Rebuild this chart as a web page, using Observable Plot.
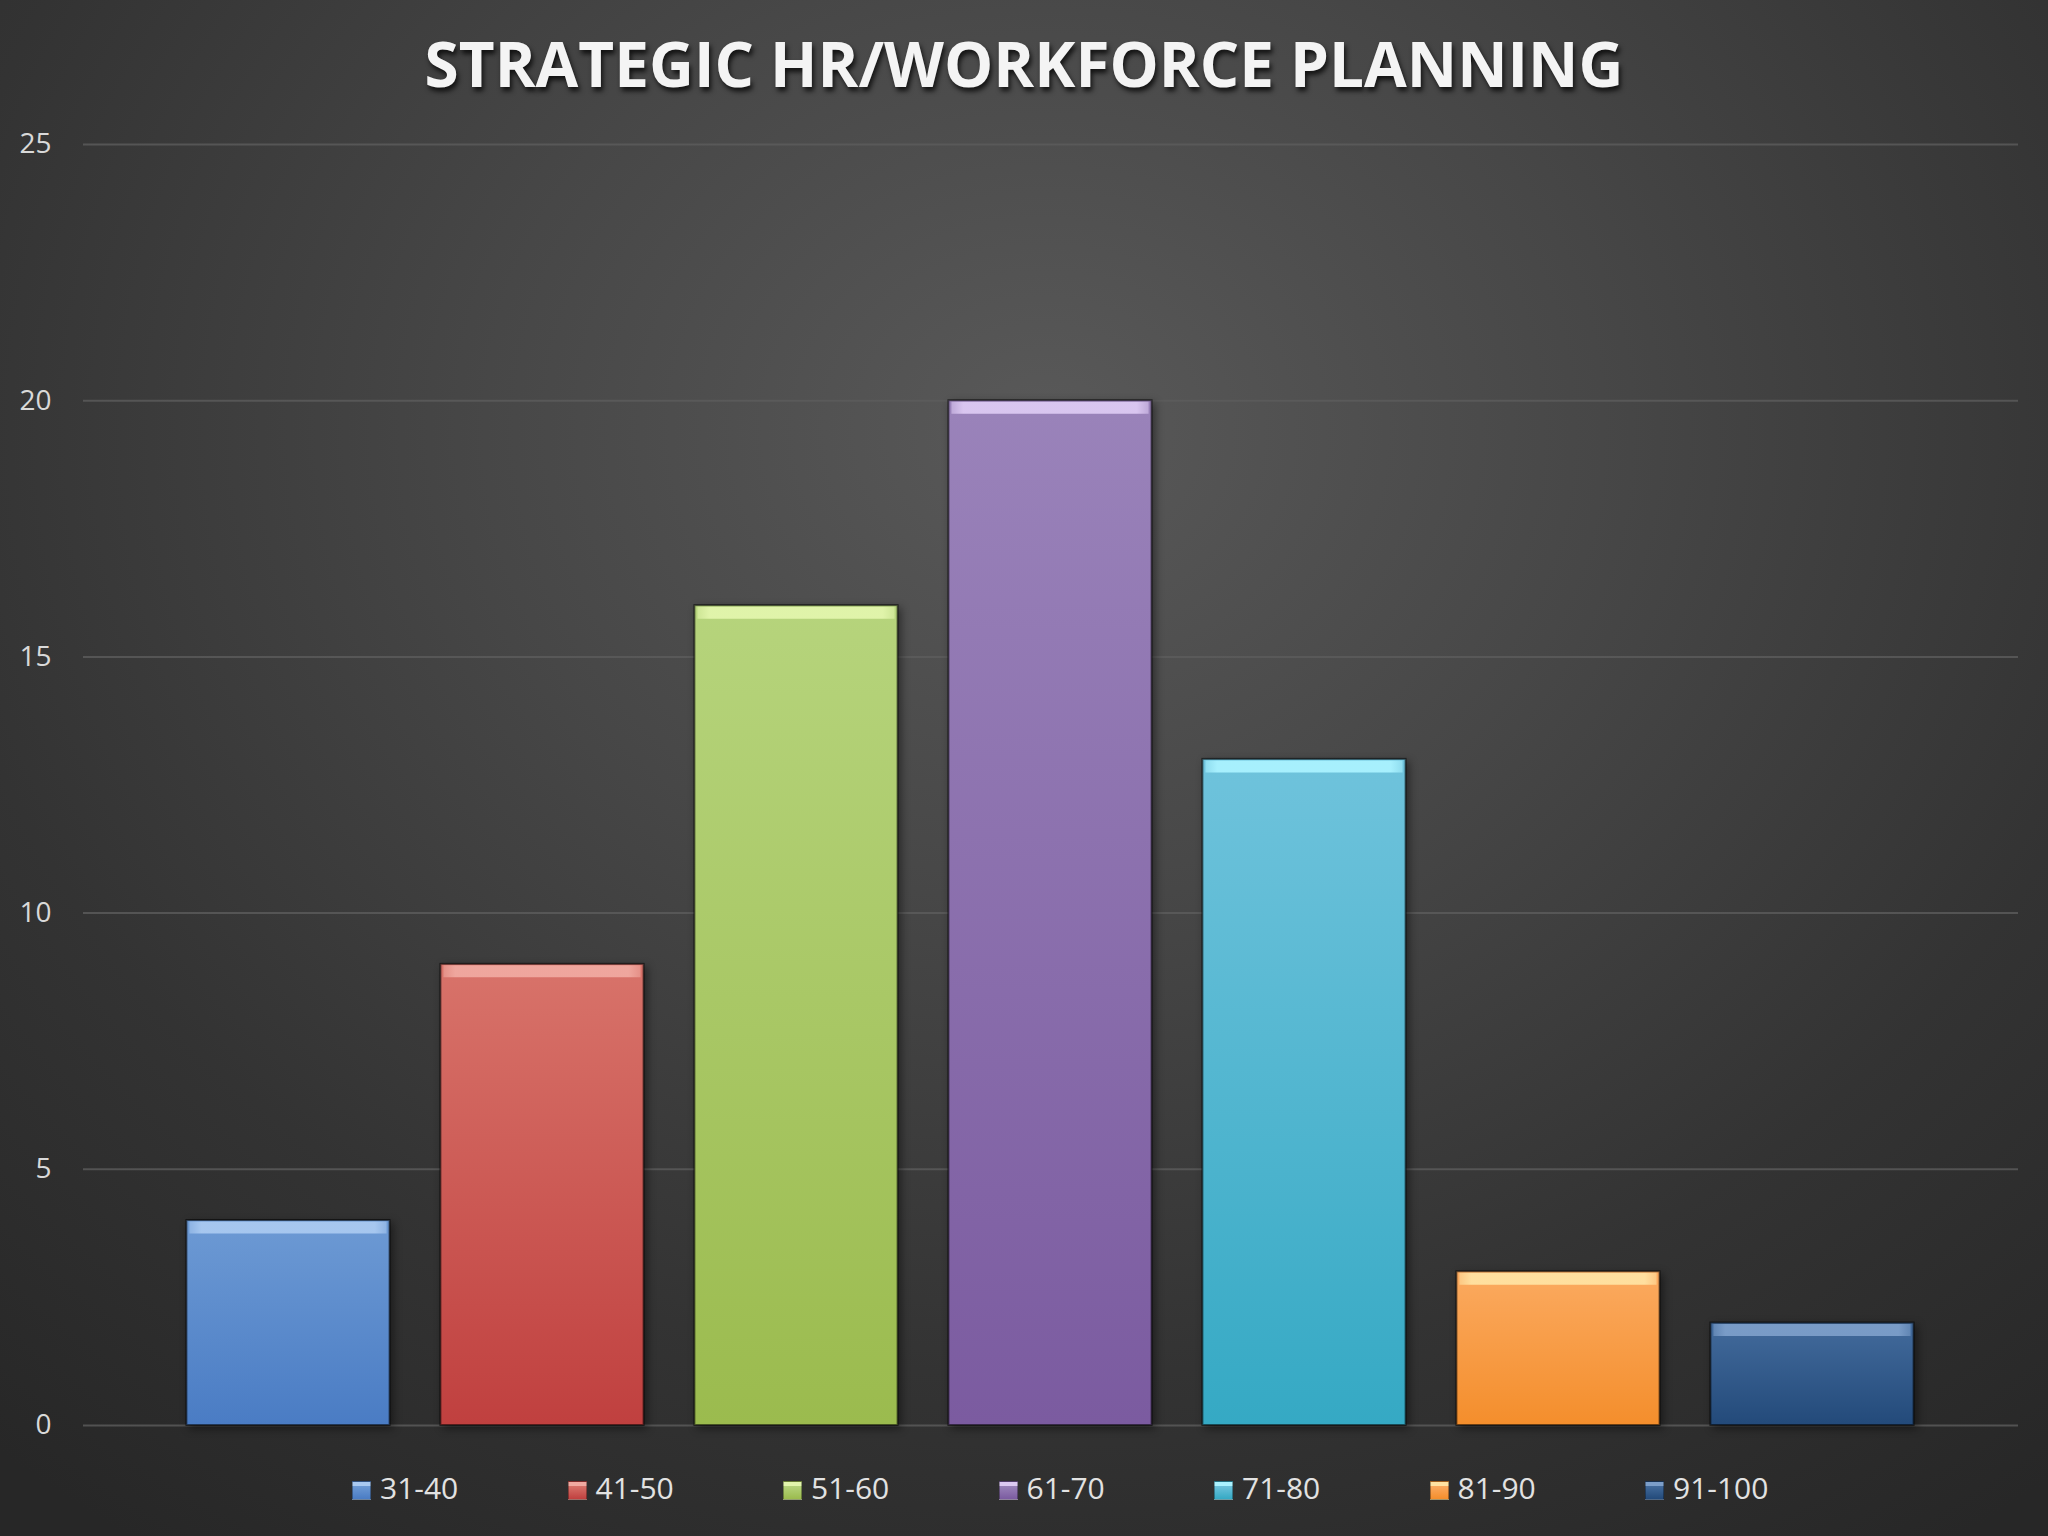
<!DOCTYPE html>
<html>
<head>
<meta charset="utf-8">
<script src="https://cdn.jsdelivr.net/npm/d3@7"></script>
<script src="https://cdn.jsdelivr.net/npm/@observablehq/plot@0.6"></script>
<style>
  html, body { margin: 0; padding: 0; }
  body {
    width: 2048px; height: 1536px; overflow: hidden; position: relative;
    background: radial-gradient(ellipse 78% 88% at 51% 28%, #595959 0%, #474747 35%, #333333 70%, #272727 100%);
    font-family: "Open Sans", "DejaVu Sans", sans-serif;
  }
  #title {
    position: absolute; left: 0; top: 8px; width: 2048px; height: 110px; line-height: 110px;
    text-align: center; color: #f4f4f4; font-weight: 700; font-size: 62px; letter-spacing: 0px;
    text-shadow: 2px 4px 5px rgba(0,0,0,0.75);
  }
  #chart { position: absolute; left: 0; top: 110px; }
  #chart svg g[aria-label="bar"] { filter: drop-shadow(3px 3px 4px rgba(0,0,0,0.45)); }
  #legend { position: absolute; top: 1468px; left: 352px; height: 40px; white-space: nowrap; }
  .item { display: inline-block; width: 215.5px; height: 40px; line-height: 40px; color: #e2e2e2; font-size: 30px; vertical-align: top; }
  .swatch { display: inline-block; width: 19px; height: 19px; margin-right: 9px; vertical-align: -1px; box-sizing: border-box; }
</style>
</head>
<body>
<div id="title">STRATEGIC HR/WORKFORCE PLANNING</div>
<div id="chart"></div>
<div id="legend"></div>
<script>
const categories = ["31-40", "41-50", "51-60", "61-70", "71-80", "81-90", "91-100"];
const values = [4, 9, 16, 20, 13, 3, 2];
const yTicks = [0, 5, 10, 15, 20, 25];
const topColors = ["#6d9ad4", "#d8736a", "#b6d47c", "#9a83ba", "#6fc3dc", "#fbaa60", "#436b9c"];
const bottomColors = ["#4a7cc4", "#c0403f", "#9bbb4e", "#7b5ba0", "#35a9c4", "#f48e2c", "#234a7a"];
const highlightColors = ["#a9c9f0", "#f0a9a0", "#e2f5ac", "#dcc9f2", "#aaf2ff", "#ffe2a2", "#7c9ec9"];

const data = categories.map((c, i) => ({cat: c, value: values[i], idx: i}));

const plot = Plot.plot({
  width: 2048,
  height: 1330,
  marginTop: 34,
  marginBottom: 15,
  marginLeft: 83,
  marginRight: 30,
  style: {background: "transparent", color: "#d9d9d9", fontFamily: "'Open Sans', sans-serif", fontSize: "28px", overflow: "visible"},
  x: {domain: categories, range: [161, 1939], paddingInner: 0.2, paddingOuter: 0.1, round: false, axis: null},
  y: {domain: [0, 25]},
  marks: [
    Plot.ruleY(yTicks, {stroke: "#5c5c5c", strokeWidth: 2, strokeOpacity: 0.8}),
    Plot.axisY({ticks: yTicks, tickSize: 0, tickPadding: 32, label: null, fontSize: 28}),
    Plot.barY(data, {x: "cat", y: "value", fill: d => `url(#grad${d.idx})`, stroke: "rgba(0,0,0,0.55)", strokeWidth: 2}),
    Plot.tickY(data, {x: "cat", y: "value", stroke: d => `url(#hl${d.idx})`, strokeWidth: 12, dy: 7, insetLeft: 3, insetRight: 3})
  ]
});

const svg = d3.select(plot);
const defs = svg.insert("defs", ":first-child");
categories.forEach((c, i) => {
  const g = defs.append("linearGradient").attr("id", `grad${i}`).attr("x1", 0).attr("y1", 0).attr("x2", 0).attr("y2", 1);
  g.append("stop").attr("offset", "0%").attr("stop-color", topColors[i]);
  g.append("stop").attr("offset", "100%").attr("stop-color", bottomColors[i]);
  const h = defs.append("linearGradient").attr("id", `hl${i}`).attr("gradientUnits", "objectBoundingBox")
    .attr("x1", 0).attr("y1", 0).attr("x2", 1).attr("y2", 0);
  h.append("stop").attr("offset", "0%").attr("stop-color", highlightColors[i]).attr("stop-opacity", 0.55);
  h.append("stop").attr("offset", "6%").attr("stop-color", highlightColors[i]).attr("stop-opacity", 0.95);
  h.append("stop").attr("offset", "94%").attr("stop-color", highlightColors[i]).attr("stop-opacity", 0.95);
  h.append("stop").attr("offset", "100%").attr("stop-color", highlightColors[i]).attr("stop-opacity", 0.55);
});
document.getElementById("chart").appendChild(plot);

// horizontal tick lines have zero-height bbox; switch highlight gradient to userSpace per line
svg.selectAll('g[aria-label="tick"] line').each(function(d, j) {
  const line = d3.select(this);
  const x1 = +line.attr("x1"), x2 = +line.attr("x2");
  const id = (line.attr("stroke") || "").match(/#(hl\d+)/);
  if (id) {
    d3.select(`#${id[1]}`).attr("gradientUnits", "userSpaceOnUse").attr("x1", x1).attr("x2", x2).attr("y1", 0).attr("y2", 0);
  }
});

const legend = d3.select("#legend");
categories.forEach((c, i) => {
  const item = legend.append("span").attr("class", "item");
  item.append("span").attr("class", "swatch")
    .style("background", `linear-gradient(${highlightColors[i]} 0 22%, ${topColors[i]} 22%, ${bottomColors[i]})`)
    .style("border", "1px solid rgba(0,0,0,0.35)");
  item.append("span").text(c);
});
</script>
</body>
</html>
